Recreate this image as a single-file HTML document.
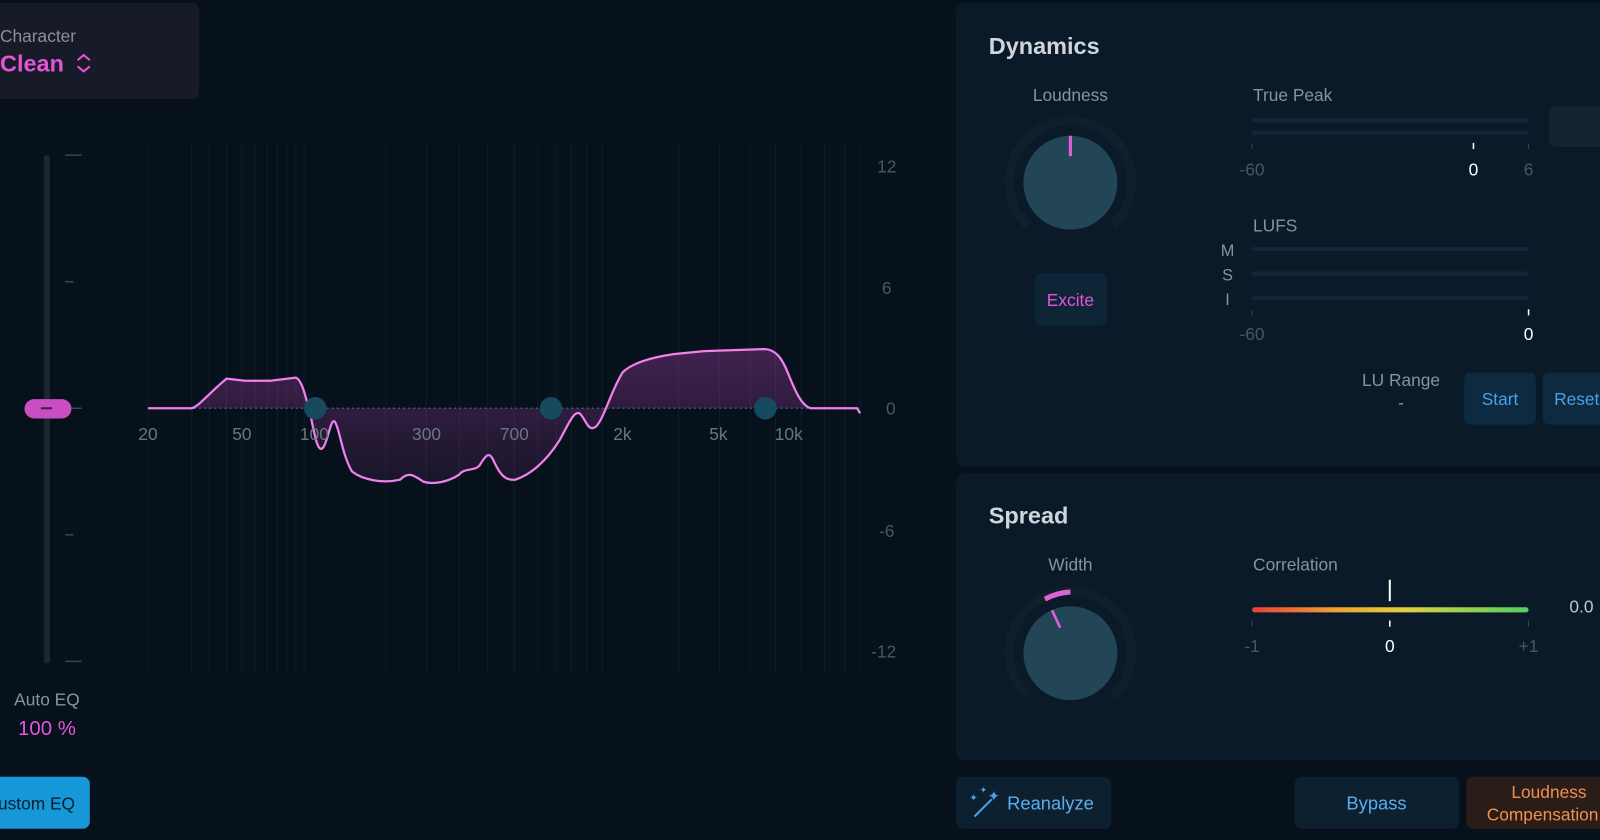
<!DOCTYPE html>
<html><head><meta charset="utf-8"><style>
html,body{margin:0;padding:0;background:#07111b;overflow:hidden}
svg{display:block}
text{font-family:"Liberation Sans",sans-serif}
</style></head><body>
<svg width="1600" height="840" viewBox="0 0 1568 823" preserveAspectRatio="none">
<defs>
<linearGradient id="fillg" x1="0" y1="0" x2="0" y2="1">
<stop offset="0" stop-color="#b040b0" stop-opacity="0.35"/>
<stop offset="1" stop-color="#b040b0" stop-opacity="0.1"/>
</linearGradient>
<linearGradient id="corr" x1="0" x2="1">
<stop offset="0" stop-color="#e8403a"/><stop offset="0.3" stop-color="#f0a030"/>
<stop offset="0.55" stop-color="#e0d040"/><stop offset="1" stop-color="#50d060"/>
</linearGradient>
<clipPath id="above"><rect x="0" y="0" width="900" height="400"/></clipPath>
<clipPath id="below"><rect x="0" y="400" width="900" height="300"/></clipPath>
</defs>
<rect width="1568" height="823" fill="#07111b"/>
<!-- character box -->
<rect x="-10" y="3" width="205" height="94" rx="6" fill="#171a27"/>
<text x="0" y="41" font-size="17" fill="#8a8f9a">Character</text>
<text x="0" y="70" font-size="23" font-weight="bold" fill="#e454d8">Clean</text>
<path d="M76 59 l6 -5 l6 5 M76 65 l6 5 l6 -5" stroke="#e454d8" stroke-width="2" fill="none"/>
<!-- grid -->
<g stroke="#0f1e2a" stroke-width="1">
<line x1="145" y1="140" x2="145" y2="660"/><line x1="188" y1="140" x2="188" y2="660"/>
<line x1="205" y1="140" x2="205" y2="660"/><line x1="222" y1="140" x2="222" y2="660"/>
<line x1="237" y1="140" x2="237" y2="660"/><line x1="250" y1="140" x2="250" y2="660"/>
<line x1="262" y1="140" x2="262" y2="660"/><line x1="272" y1="140" x2="272" y2="660"/>
<line x1="281" y1="140" x2="281" y2="660"/><line x1="290" y1="140" x2="290" y2="660"/>
<line x1="298" y1="140" x2="298" y2="660"/><line x1="378" y1="140" x2="378" y2="660"/>
<line x1="418" y1="140" x2="418" y2="660"/><line x1="450" y1="140" x2="450" y2="660"/>
<line x1="478" y1="140" x2="478" y2="660"/><line x1="504" y1="140" x2="504" y2="660"/>
<line x1="527" y1="140" x2="527" y2="660"/><line x1="545" y1="140" x2="545" y2="660"/>
<line x1="560" y1="140" x2="560" y2="660"/><line x1="575" y1="140" x2="575" y2="660"/>
<line x1="590" y1="140" x2="590" y2="660"/><line x1="665" y1="140" x2="665" y2="660"/>
<line x1="705" y1="140" x2="705" y2="660"/><line x1="735" y1="140" x2="735" y2="660"/>
<line x1="760" y1="140" x2="760" y2="660"/><line x1="785" y1="140" x2="785" y2="660"/>
<line x1="808" y1="140" x2="808" y2="660"/><line x1="828" y1="140" x2="828" y2="660"/>
<line x1="843" y1="140" x2="843" y2="660"/>
</g>
<line x1="145" y1="400" x2="843" y2="400" stroke="#2a5a70" stroke-width="1.5" stroke-dasharray="2,3"/>
<!-- curve -->
<path id="cv" d="M145,400 L188,400 C195,398 205,385 222,371 L240,373 L265,373 L290,370 C296,372 300,390 305,410 C309,430 312,445 317,438 C322,430 324,410 328,413 C333,420 335,445 345,462 C355,470 375,474 392,470 C400,462 405,465 415,472 C425,475 440,472 450,465 C455,458 465,462 470,456 C475,448 479,440 484,452 C490,465 495,471 505,470 C520,465 535,452 548,432 C556,418 562,402 568,405 C574,410 576,424 584,418 C592,410 598,385 610,365 C620,355 640,350 660,347 L690,344 L750,342 C760,343 766,350 772,365 C778,380 785,398 795,400 L840,400 L843,405" fill="none"/>
<path d="M145,400 L188,400 C195,398 205,385 222,371 L240,373 L265,373 L290,370 C296,372 300,390 305,410 C309,430 312,445 317,438 C322,430 324,410 328,413 C333,420 335,445 345,462 C355,470 375,474 392,470 C400,462 405,465 415,472 C425,475 440,472 450,465 C455,458 465,462 470,456 C475,448 479,440 484,452 C490,465 495,471 505,470 C520,465 535,452 548,432 C556,418 562,402 568,405 C574,410 576,424 584,418 C592,410 598,385 610,365 C620,355 640,350 660,347 L690,344 L750,342 C760,343 766,350 772,365 C778,380 785,398 795,400 L843,400 Z" fill="url(#fillg)"/>
<use href="#cv" stroke="#f080ec" stroke-width="2.2"/>
<g fill="#174a5e"><circle cx="309" cy="400" r="11"/><circle cx="540" cy="400" r="11"/><circle cx="750" cy="400" r="11"/></g>
<g font-size="17" fill="#6a7682" text-anchor="middle">
<text x="145" y="431">20</text><text x="237" y="431">50</text><text x="308" y="431">100</text>
<text x="418" y="431">300</text><text x="504" y="431">700</text><text x="610" y="431">2k</text>
<text x="704" y="431">5k</text><text x="773" y="431">10k</text>
</g>
<g font-size="17" fill="#4a5662" text-anchor="middle">
<text x="869" y="169">12</text><text x="869" y="288">6</text><text x="873" y="406">0</text>
<text x="869" y="526">-6</text><text x="866" y="644">-12</text>
</g>
<!-- slider -->
<rect x="43" y="152" width="6" height="498" rx="3" fill="#1a2630"/>
<g stroke="#3a4650" stroke-width="1.5"><line x1="64" y1="152" x2="80" y2="152"/><line x1="64" y1="276" x2="72" y2="276"/><line x1="64" y1="524" x2="72" y2="524"/><line x1="64" y1="648" x2="80" y2="648"/><line x1="66" y1="400" x2="80" y2="400"/></g>
<rect x="24" y="391" width="46" height="19" rx="9.5" fill="#c94ec3"/>
<line x1="40" y1="400" x2="51" y2="400" stroke="#4a1a48" stroke-width="2"/>
<text x="46" y="691" font-size="17" fill="#8a929c" text-anchor="middle">Auto EQ</text>
<text x="46" y="720" font-size="20" fill="#e454d8" text-anchor="middle">100 %</text>
<rect x="-10" y="761" width="98" height="51" rx="7" fill="#1597d8"/>
<text x="-2" y="793" font-size="17" fill="#08202e">ustom EQ</text>
<!-- Dynamics -->
<rect x="937" y="3" width="640" height="454" rx="8" fill="#0a1a28"/>
<text x="969" y="53" font-size="23" font-weight="bold" fill="#d0d6dc">Dynamics</text>
<text x="1049" y="99" font-size="17" fill="#8a929c" text-anchor="middle">Loudness</text>
<path d="M1007,221 A60,60 0 1 1 1091,221" stroke="#101f2c" stroke-width="9" fill="none"/>
<circle cx="1049" cy="179" r="46" fill="#234656"/>
<line x1="1049" y1="133" x2="1049" y2="153" stroke="#e060d8" stroke-width="3"/>
<rect x="1014" y="268" width="71" height="51" rx="6" fill="#0d2536"/>
<text x="1049" y="300" font-size="17" fill="#e454d8" text-anchor="middle">Excite</text>
<text x="1228" y="99" font-size="17" fill="#8a929c">True Peak</text>
<rect x="1227" y="116" width="271" height="4" rx="2" fill="#15263a"/>
<rect x="1227" y="128" width="271" height="4" rx="2" fill="#15263a"/>
<rect x="1518" y="104" width="60" height="40" rx="7" fill="#132433"/>
<g stroke="#3a4650"><line x1="1227" y1="141" x2="1227" y2="146"/><line x1="1498" y1="141" x2="1498" y2="146"/></g>
<line x1="1444" y1="140" x2="1444" y2="146" stroke="#fff" stroke-width="1.5"/>
<text x="1227" y="172" font-size="17" fill="#4a5662" text-anchor="middle">-60</text>
<text x="1444" y="172" font-size="17" fill="#fff" text-anchor="middle">0</text>
<text x="1498" y="172" font-size="17" fill="#4a5662" text-anchor="middle">6</text>
<text x="1228" y="227" font-size="17" fill="#8a929c">LUFS</text>
<g font-size="16" fill="#8a929c" text-anchor="middle"><text x="1203" y="251">M</text><text x="1203" y="275">S</text><text x="1203" y="299">I</text></g>
<rect x="1227" y="242" width="271" height="4" rx="2" fill="#15263a"/>
<rect x="1227" y="266" width="271" height="4" rx="2" fill="#15263a"/>
<rect x="1227" y="290" width="271" height="4" rx="2" fill="#15263a"/>
<line x1="1227" y1="304" x2="1227" y2="309" stroke="#3a4650"/>
<line x1="1498" y1="303" x2="1498" y2="309" stroke="#fff" stroke-width="1.5"/>
<text x="1227" y="333" font-size="17" fill="#4a5662" text-anchor="middle">-60</text>
<text x="1498" y="333" font-size="17" fill="#fff" text-anchor="middle">0</text>
<text x="1373" y="378" font-size="17" fill="#8a929c" text-anchor="middle">LU Range</text>
<text x="1373" y="400" font-size="17" fill="#8a929c" text-anchor="middle">-</text>
<rect x="1435" y="365" width="70" height="51" rx="6" fill="#0d2a40"/>
<text x="1470" y="397" font-size="17" fill="#4aa0e8" text-anchor="middle">Start</text>
<rect x="1512" y="365" width="70" height="51" rx="6" fill="#0d2a40"/>
<text x="1523" y="397" font-size="17" fill="#4aa0e8">Reset</text>
<!-- Spread -->
<rect x="937" y="464" width="640" height="281" rx="8" fill="#0a1a28"/>
<text x="969" y="513" font-size="23" font-weight="bold" fill="#d0d6dc">Spread</text>
<text x="1049" y="559" font-size="17" fill="#8a929c" text-anchor="middle">Width</text>
<path d="M1007,682 A60,60 0 1 1 1091,682" stroke="#101f2c" stroke-width="9" fill="none"/>
<path d="M1024,587 A60,60 0 0 1 1049,580" stroke="#e060d8" stroke-width="5" fill="none"/>
<circle cx="1049" cy="640" r="46" fill="#234656"/>
<line x1="1031" y1="598" x2="1039" y2="615" stroke="#e060d8" stroke-width="2.5"/>
<text x="1228" y="559" font-size="17" fill="#8a929c">Correlation</text>
<rect x="1227" y="595" width="271" height="5" rx="2.5" fill="url(#corr)"/>
<line x1="1362" y1="568" x2="1362" y2="589" stroke="#fff" stroke-width="2"/>
<g stroke="#3a4650"><line x1="1227" y1="608" x2="1227" y2="614"/><line x1="1498" y1="608" x2="1498" y2="614"/></g>
<line x1="1362" y1="608" x2="1362" y2="614" stroke="#fff" stroke-width="1.5"/>
<text x="1227" y="639" font-size="17" fill="#4a5662" text-anchor="middle">-1</text>
<text x="1362" y="639" font-size="17" fill="#fff" text-anchor="middle">0</text>
<text x="1498" y="639" font-size="17" fill="#4a5662" text-anchor="middle">+1</text>
<text x="1538" y="600" font-size="17" fill="#c0c6cc">0.0</text>
<!-- bottom buttons -->
<rect x="937" y="761" width="152" height="51" rx="7" fill="#0d2030"/>
<g stroke="#4aa0e8" stroke-width="2" fill="none"><line x1="955" y1="800" x2="972" y2="783"/></g>
<text x="968" y="785" font-size="14" fill="#4aa0e8">✦</text><text x="950" y="785" font-size="10" fill="#4aa0e8">✦</text><text x="960" y="777" font-size="9" fill="#4aa0e8">✦</text>
<text x="987" y="793" font-size="18" fill="#5aaef0">Reanalyze</text>
<rect x="1269" y="761" width="161" height="51" rx="7" fill="#0d2030"/>
<text x="1349" y="793" font-size="18" fill="#5aaef0" text-anchor="middle">Bypass</text>
<rect x="1437" y="761" width="150" height="51" rx="7" fill="#2a1c17"/>
<text x="1518" y="782" font-size="17" fill="#f09050" text-anchor="middle">Loudness</text>
<text x="1457" y="804" font-size="17" fill="#f09050">Compensation</text>
</svg>
</body></html>
